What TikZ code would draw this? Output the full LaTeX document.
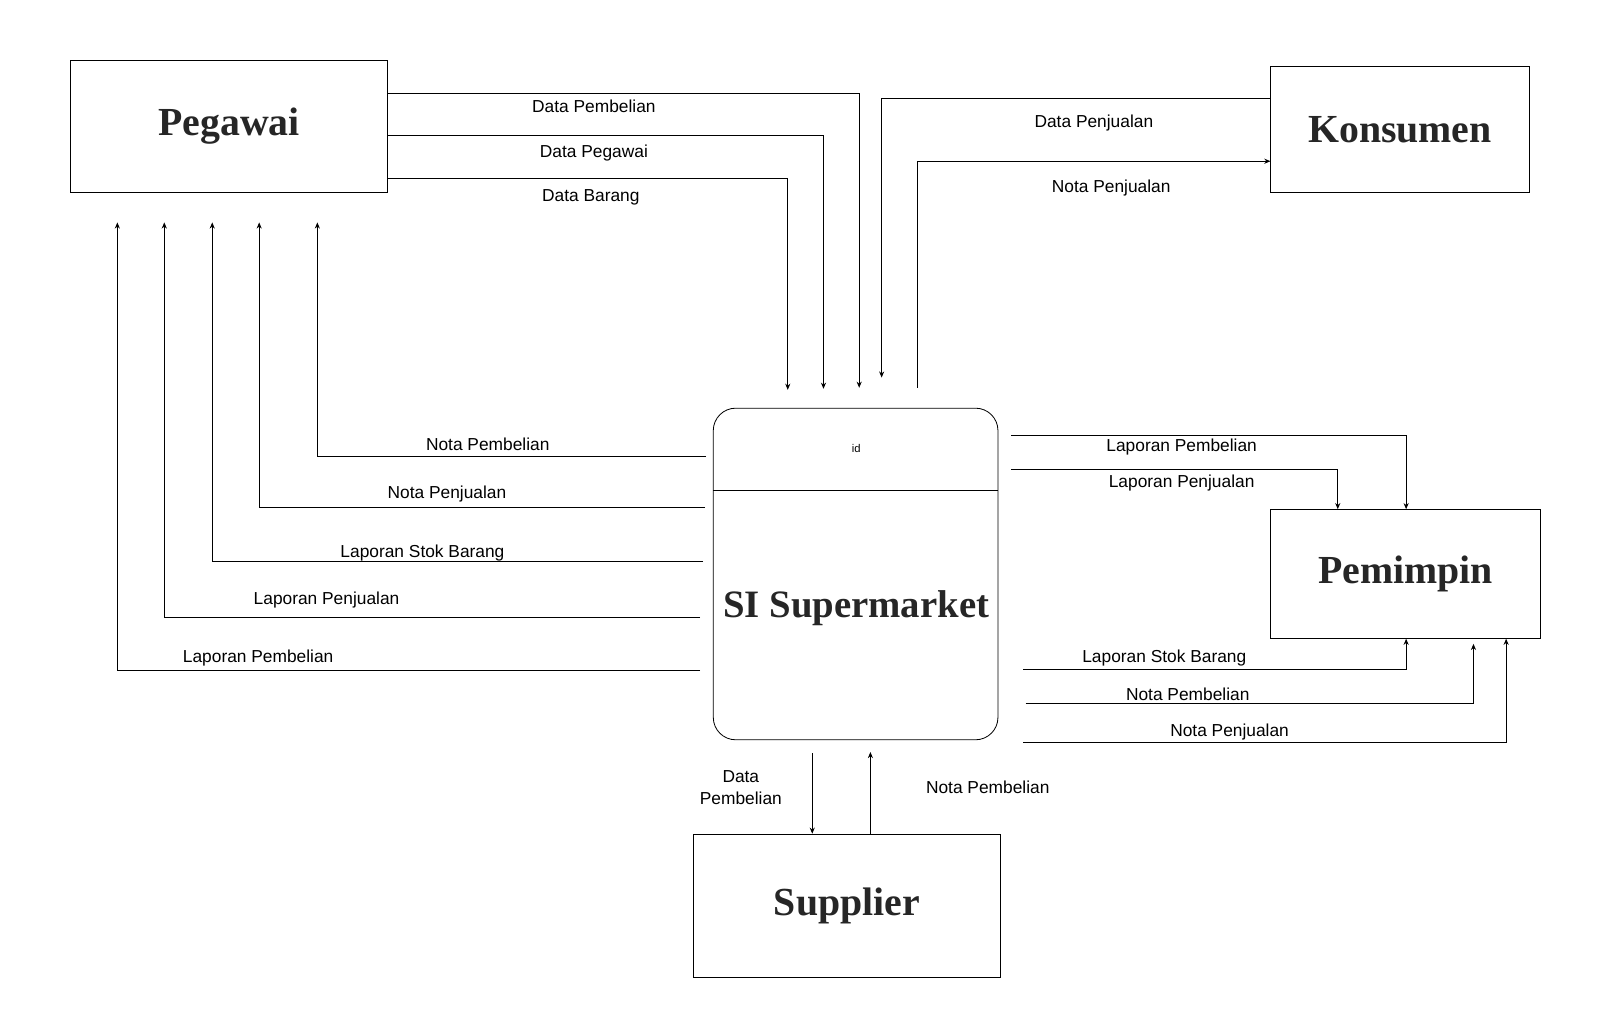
\documentclass[tikz,border=0pt]{standalone}
\usepackage{fontspec}
\setmainfont{Liberation Sans}
\newfontfamily\titlefont{Liberation Serif}
\usetikzlibrary{arrows.meta}
\begin{document}
\begin{tikzpicture}[x=1pt,y=-1pt,
  ent/.style={draw,line width=0.8pt,inner sep=0pt,text=black!85,font=\titlefont\bfseries\fontsize{39}{44}\selectfont},
  flow/.style={draw,line width=0.8pt,-{Stealth[length=6pt,width=5pt]}},
  lbl/.style={font=\fontsize{17}{20}\selectfont,inner sep=0pt}]
\useasboundingbox (0,0) rectangle (1568,1014);
\node[ent,minimum width=311pt,minimum height=130pt] (peg) at (224.5,124) {Pegawai};
\node[ent,minimum width=254pt,minimum height=124pt] (kon) at (1372,127) {Konsumen};
\node[ent,minimum width=265pt,minimum height=127pt] (pem) at (1377.5,562.5) {Pemimpin};
\node[ent,minimum width=300pt,minimum height=140pt] (sup) at (830,888) {Supplier};
\draw[line width=0.8pt,rounded corners=22pt] (699,400) rectangle (978,725);
\draw[line width=0.8pt] (699,481) -- (978,481);
\node[font=\fontsize{11}{12}\selectfont] (id) at (839,440) {id};
\node[font=\titlefont\bfseries\fontsize{38}{44}\selectfont,text=black!85] (si) at (839,596) {SI Supermarket};
% Pegawai -> SI
\draw[flow] (380,92) -- (842,92) -- (842,380);
\node[lbl] (l1) at (582,104) {Data Pembelian};
\draw[flow] (380,133) -- (807,133) -- (807,381);
\node[lbl] (l2) at (582,150) {Data Pegawai};
\draw[flow] (380,175) -- (772,175) -- (772,382);
\node[lbl] (l3) at (579,193) {Data Barang};
% Konsumen
\draw[flow] (1245,96) -- (864,96) -- (864,370);
\node[lbl] (l4) at (1072,121) {Data Penjualan};
\draw[flow] (899,380) -- (899,158) -- (1245,158);
\node[lbl] (l5) at (1089,184) {Nota Penjualan};
% SI -> Pegawai
\draw[flow] (692,447) -- (311,447) -- (311,218);
\node[lbl] (l6) at (478,435) {Nota Pembelian};
\draw[flow] (691,497) -- (254,497) -- (254,218);
\node[lbl] (l7) at (438,484) {Nota Penjualan};
\draw[flow] (689,550) -- (208,550) -- (208,218);
\node[lbl] (l8) at (414,542) {Laporan Stok Barang};
\draw[flow] (686,605) -- (161,605) -- (161,218);
\node[lbl] (l9) at (320,588) {Laporan Penjualan};
\draw[flow] (686,657) -- (115,657) -- (115,218);
\node[lbl] (l10) at (253,645) {Laporan Pembelian};
% SI -> Pemimpin
\draw[flow] (991,427) -- (1378,427) -- (1378,499);
\node[lbl] (l11) at (1158,438) {Laporan Pembelian};
\draw[flow] (991,460) -- (1311,460) -- (1311,499);
\node[lbl] (l12) at (1158,473) {Laporan Penjualan};
\draw[flow] (1003,656) -- (1378,656) -- (1378,626);
\node[lbl] (l13) at (1141,645) {Laporan Stok Barang};
\draw[flow] (1005,689) -- (1444,689) -- (1444,631);
\node[lbl] (l14) at (1164,680) {Nota Pembelian};
\draw[flow] (1003,728) -- (1476,728) -- (1476,626);
\node[lbl] (l15) at (1205,717) {Nota Penjualan};
% Supplier
\draw[flow] (796,738) -- (796,817);
\node[lbl,align=center] (l16) at (726,772) {Data\\[2pt]Pembelian};
\draw[flow] (853,818) -- (853,737);
\node[lbl] (l17) at (968,772) {Nota Pembelian};
\end{tikzpicture}
\end{document}
